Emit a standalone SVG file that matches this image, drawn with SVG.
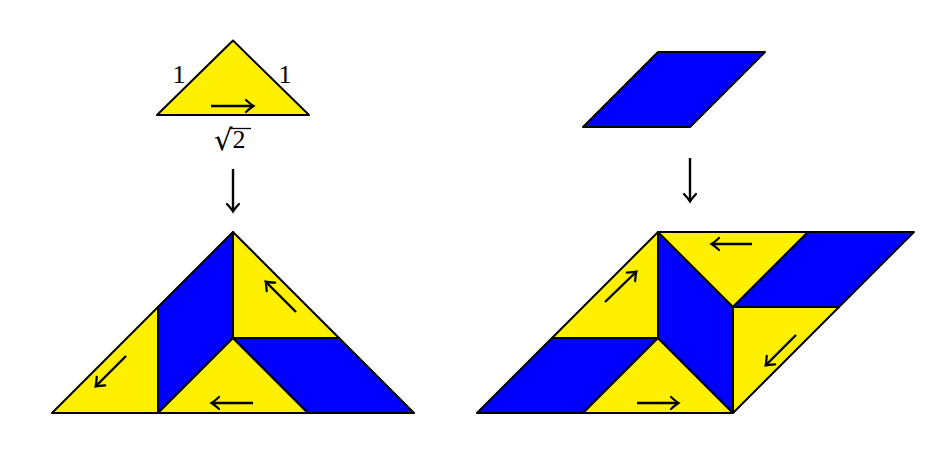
<svg xmlns="http://www.w3.org/2000/svg" width="948" height="457" viewBox="0 0 948 457">
<defs>
<style>
.y{fill:#FFEF00;stroke:#000;stroke-width:2;stroke-linejoin:round}
.b{fill:#0000FF;stroke:#000;stroke-width:2;stroke-linejoin:round}
.a{fill:none;stroke:#000;stroke-width:2.4;marker-end:url(#h)}
.t{font-family:"Liberation Serif",serif;font-size:26px;fill:#000}
</style>
<marker id="h" markerUnits="userSpaceOnUse" markerWidth="16" markerHeight="16" viewBox="-10 -8 12 16" refX="0" refY="0" orient="auto">
<path d="M-7,-6 Q-2,-1.5 0.5,0 Q-2,1.5 -7,6" fill="none" stroke="#000" stroke-width="2.2" stroke-linecap="round"/>
</marker>
</defs>
<rect width="948" height="457" fill="#fff"/>
<g id="unit-triangle">
<polygon class="y" points="157,115 233,40.5 309,115"/>
<text class="t" x="179" y="83" text-anchor="middle">1</text>
<text class="t" x="285" y="83" text-anchor="middle">1</text>
<text class="t" x="214" y="148"><tspan font-family="DejaVu Serif" font-size="29" dy="2">√</tspan><tspan dy="-2">2</tspan></text>
<line x1="230" y1="128.5" x2="251" y2="128.5" stroke="#000" stroke-width="1.3"/>
</g>
<g id="unit-parallelogram">
<polygon class="b" points="583,127 658,52 765,52 690,127"/>
</g>
<g id="big-triangle">
<polygon class="y" points="52,413 158,413 158,307"/>
<polygon class="b" points="158,307 233,232 233,338 158,413"/>
<polygon class="y" points="233,232 233,338 339,338"/>
<polygon class="y" points="158,413 233,338 308,413"/>
<polygon class="b" points="233,338 339,338 414,413 308,413"/>
</g>
<g id="big-parallelogram">
<polygon class="b" points="477,413 552,338 658,338 583,413"/>
<polygon class="y" points="583,413 658,338 733,413"/>
<polygon class="y" points="552,338 658,232 658,338"/>
<polygon class="b" points="658,232 733,307 733,413 658,338"/>
<polygon class="y" points="658,232 808,232 733,307"/>
<polygon class="b" points="733,307 808,232 914,232 839,307"/>
<polygon class="y" points="733,307 839,307 733,413"/>
</g>
<g id="connectors">
<line class="a" x1="233" y1="169" x2="233" y2="211"/>
<line class="a" x1="690" y1="158" x2="690" y2="201"/>
<line class="a" x1="211" y1="106" x2="253" y2="106"/>
<line class="a" x1="296" y1="312" x2="266" y2="282"/>
<line class="a" x1="126" y1="356" x2="96" y2="386"/>
<line class="a" x1="253" y1="403" x2="212" y2="403"/>
<line class="a" x1="752" y1="244" x2="712" y2="244"/>
<line class="a" x1="605" y1="302" x2="636" y2="272"/>
<line class="a" x1="637" y1="403" x2="678" y2="403"/>
<line class="a" x1="796" y1="335" x2="766" y2="365"/>
</g>
</svg>
